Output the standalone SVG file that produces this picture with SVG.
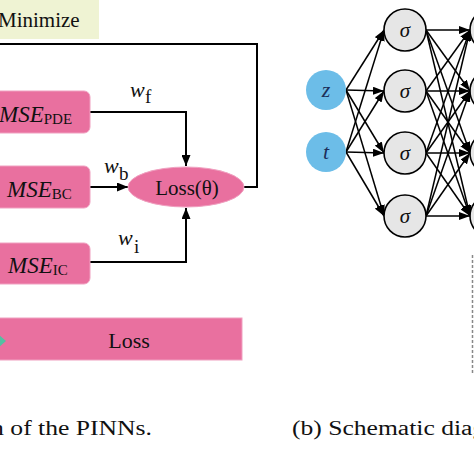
<svg xmlns="http://www.w3.org/2000/svg" width="474" height="474" viewBox="0 0 474 474">
<style>
.pink{fill:#e9709f;stroke:#f0a0c0;stroke-width:1}
.lbl{font-family:"Liberation Serif",serif;fill:#111}
.it{font-style:italic}
.con{fill:none;stroke:#000;stroke-width:2}
.net{fill:none;stroke:#000;stroke-width:1.5}
.hid{fill:#e6e6e6;stroke:#000;stroke-width:1.6}
.inp{fill:#6cbde8}
</style>
<defs>
<marker id="ah" markerWidth="11" markerHeight="9" refX="11" refY="4.5" orient="auto" markerUnits="userSpaceOnUse"><path d="M0,0 L11,4.5 L0,9 z" fill="#000"/></marker>
<marker id="an" markerWidth="11" markerHeight="8" refX="11" refY="4" orient="auto" markerUnits="userSpaceOnUse"><path d="M0,0 L11,4 L0,8 z" fill="#000"/></marker>
</defs>
<rect width="474" height="474" fill="#fff"/>

<g id="minimize">
<rect x="-2" y="-2" width="101" height="41" fill="#eff3d3"/>
<text class="lbl" x="-2" y="27" font-size="21">Minimize</text>
</g>

<g id="connectors">
<path class="con" d="M244,187 H257 V44 H-2"/>
<path class="con" d="M90,112 H186 V166" marker-end="url(#ah)"/>
<path class="con" d="M90,187 H128" marker-end="url(#ah)"/>
<path class="con" d="M90,262 H186 V208" marker-end="url(#ah)"/>
</g>

<g id="mse-pde">
<rect class="pink" x="-10" y="91" width="100" height="42" rx="6"/>
<text class="lbl" y="122"><tspan class="it" x="-1" font-size="23">MSE</tspan><tspan font-size="15" dy="2">PDE</tspan></text>
</g>
<g id="mse-bc">
<rect class="pink" x="-10" y="166" width="100" height="42" rx="6"/>
<text class="lbl" y="197"><tspan class="it" x="7" font-size="23">MSE</tspan><tspan font-size="15" dy="2">BC</tspan></text>
</g>
<g id="mse-ic">
<rect class="pink" x="-10" y="243" width="100" height="41" rx="6"/>
<text class="lbl" y="273"><tspan class="it" x="8" font-size="23">MSE</tspan><tspan font-size="15" dy="2">IC</tspan></text>
</g>

<g id="weights">
<text class="lbl"><tspan class="it" x="130" y="97" font-size="22">w</tspan><tspan x="145" y="103" font-size="19">f</tspan></text>
<text class="lbl"><tspan class="it" x="104" y="173" font-size="22">w</tspan><tspan x="119" y="180" font-size="19">b</tspan></text>
<text class="lbl"><tspan class="it" x="118" y="245" font-size="22">w</tspan><tspan x="134" y="253" font-size="19">i</tspan></text>
</g>

<g id="loss-theta">
<ellipse class="pink" cx="186" cy="187" rx="58" ry="20"/>
<text class="lbl" x="187" y="195" font-size="21" text-anchor="middle">Loss(θ)</text>
</g>

<g id="loss-bar">
<rect class="pink" x="-5" y="318" width="247" height="42"/>
<path d="M-2,334 L6,341 L-2,348 z" fill="#52c0a2"/>
<text class="lbl" x="129" y="348" font-size="22" text-anchor="middle">Loss</text>
</g>

<g id="network-connectors">
<g class="net">
<line x1="346" y1="90" x2="384" y2="30" marker-end="url(#an)"/>
<line x1="346" y1="90" x2="384" y2="91" marker-end="url(#an)"/>
<line x1="346" y1="90" x2="384" y2="153" marker-end="url(#an)"/>
<line x1="346" y1="90" x2="384" y2="216" marker-end="url(#an)"/>
<line x1="346" y1="152" x2="384" y2="30" marker-end="url(#an)"/>
<line x1="346" y1="152" x2="384" y2="91" marker-end="url(#an)"/>
<line x1="346" y1="152" x2="384" y2="153" marker-end="url(#an)"/>
<line x1="346" y1="152" x2="384" y2="216" marker-end="url(#an)"/>

<line x1="426" y1="30" x2="470" y2="30" marker-end="url(#an)"/>
<line x1="426" y1="30" x2="470" y2="91" marker-end="url(#an)"/>
<line x1="426" y1="30" x2="470" y2="153" marker-end="url(#an)"/>
<line x1="426" y1="30" x2="470" y2="216" marker-end="url(#an)"/>
<line x1="426" y1="91" x2="470" y2="30" marker-end="url(#an)"/>
<line x1="426" y1="91" x2="470" y2="91" marker-end="url(#an)"/>
<line x1="426" y1="91" x2="470" y2="153" marker-end="url(#an)"/>
<line x1="426" y1="91" x2="470" y2="216" marker-end="url(#an)"/>
<line x1="426" y1="153" x2="470" y2="30" marker-end="url(#an)"/>
<line x1="426" y1="153" x2="470" y2="91" marker-end="url(#an)"/>
<line x1="426" y1="153" x2="470" y2="153" marker-end="url(#an)"/>
<line x1="426" y1="153" x2="470" y2="216" marker-end="url(#an)"/>
<line x1="426" y1="216" x2="470" y2="30" marker-end="url(#an)"/>
<line x1="426" y1="216" x2="470" y2="91" marker-end="url(#an)"/>
<line x1="426" y1="216" x2="470" y2="153" marker-end="url(#an)"/>
<line x1="426" y1="216" x2="470" y2="216" marker-end="url(#an)"/>
</g>
</g>

<g id="input-z"><circle class="inp" cx="326" cy="90" r="20"/><text class="lbl it" x="326" y="97" font-size="22" text-anchor="middle" style="fill:#1c2f5a">z</text></g>
<g id="input-t"><circle class="inp" cx="326" cy="152" r="20"/><text class="lbl it" x="326" y="159" font-size="22" text-anchor="middle" style="fill:#1c2f5a">t</text></g>

<g id="h1-1"><circle class="hid" cx="405" cy="30" r="21"/><text class="lbl it" x="405" y="37" font-size="21" text-anchor="middle">σ</text></g>
<g id="h1-2"><circle class="hid" cx="405" cy="91" r="21"/><text class="lbl it" x="405" y="98" font-size="21" text-anchor="middle">σ</text></g>
<g id="h1-3"><circle class="hid" cx="405" cy="153" r="21"/><text class="lbl it" x="405" y="160" font-size="21" text-anchor="middle">σ</text></g>
<g id="h1-4"><circle class="hid" cx="405" cy="216" r="21"/><text class="lbl it" x="405" y="223" font-size="21" text-anchor="middle">σ</text></g>

<g id="h2-1"><circle class="hid" cx="491" cy="30" r="21"/></g>
<g id="h2-2"><circle class="hid" cx="491" cy="91" r="21"/></g>
<g id="h2-3"><circle class="hid" cx="491" cy="153" r="21"/></g>
<g id="h2-4"><circle class="hid" cx="491" cy="216" r="21"/></g>

<g id="dashed-box">
<line x1="472.5" y1="255" x2="472.5" y2="373" stroke="#888" stroke-width="1.5" stroke-dasharray="3,2"/>
</g>

<g id="captions">
<text class="lbl" x="-16" y="435" font-size="20" textLength="168" lengthAdjust="spacingAndGlyphs">m of the PINNs.</text>
<text class="lbl" x="292" y="435" font-size="20" textLength="233" lengthAdjust="spacingAndGlyphs">(b) Schematic diagram</text>
</g>
</svg>
